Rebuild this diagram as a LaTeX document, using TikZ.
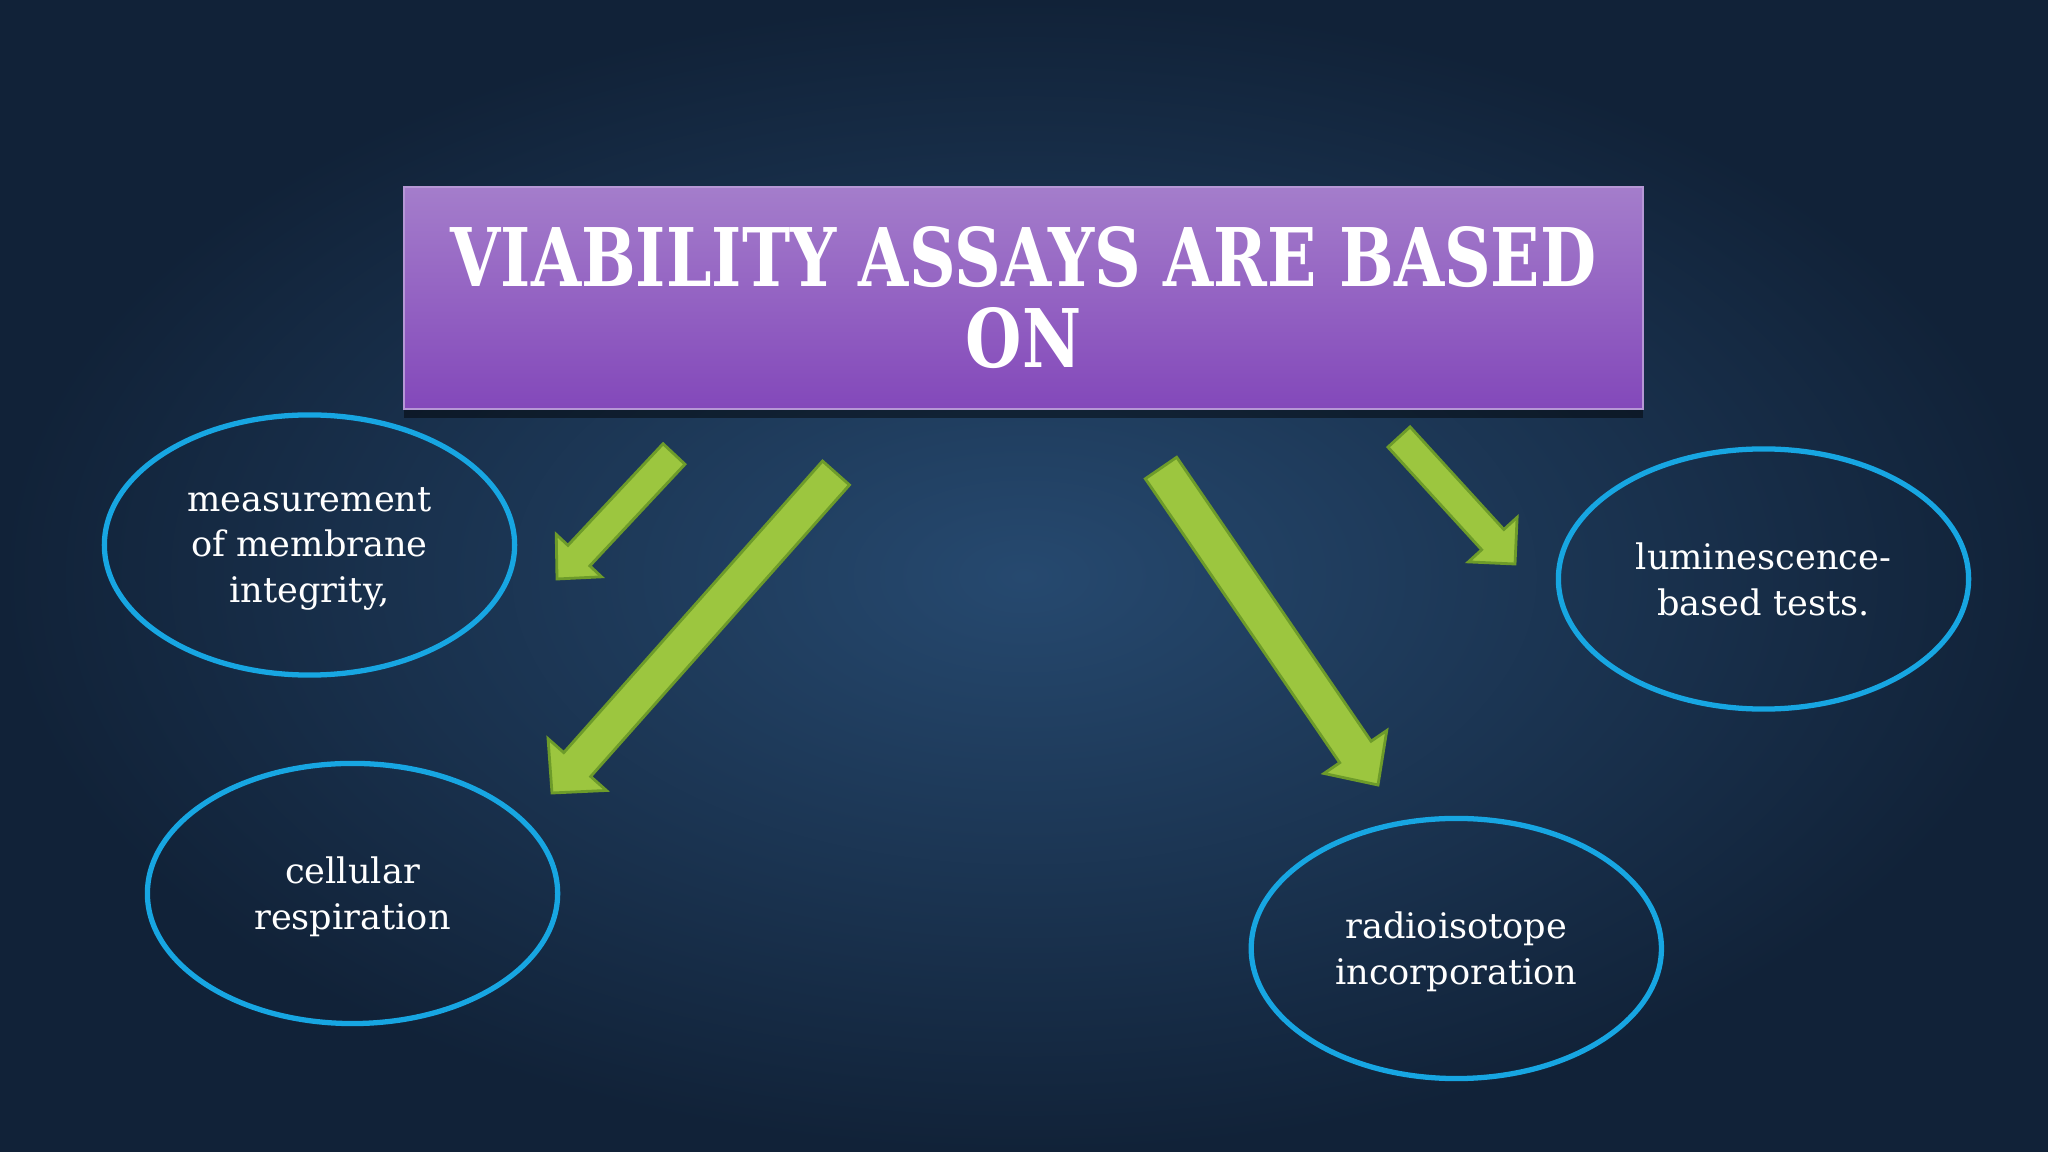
\documentclass[tikz,border=0pt]{standalone}
\usepackage{fontspec}
\setmainfont{DejaVu Serif}
\newfontfamily\titlefont[FakeStretch=0.8]{DejaVu Serif}
\usetikzlibrary{calc}
\usetikzlibrary{positioning}
\usetikzlibrary{shapes.geometric}
\usetikzlibrary{shadows}

\definecolor{bgin}{HTML}{26496F}
\definecolor{bgout}{HTML}{112238}
\definecolor{boxtop}{HTML}{A47DCB}
\definecolor{boxbottom}{HTML}{8348BA}
\definecolor{ovalblue}{HTML}{17A6E2}
\definecolor{arrowgreen}{HTML}{9CC63F}
\definecolor{arrowedge}{HTML}{6D9B2A}

% block arrow: tail, tip, half shaft, half head, head length
\newcommand\blockarrow[5]{%
  \coordinate (#2 base) at ($(#2)!#5!(#1)$);
  \filldraw[arrow body] ($(#1)!#3!90:(#2)$) -- ($(#2 base)!#3!90:(#2)$)
    -- ($(#2 base)!#4!90:(#2)$) -- (#2) -- ($(#2 base)!#4!-90:(#2)$)
    -- ($(#2 base)!#3!-90:(#2)$) -- ($(#1)!#3!-90:(#2)$) -- cycle;}

\begin{document}
\begin{tikzpicture}[
            x=0.01cm,y=-0.01cm,
            every node/.style={align=center,text=white},
            title box/.style={rectangle,top color=boxtop,bottom color=boxbottom,
                draw=boxtop!80!white,line width=0.6pt,minimum width=12.39cm,
                minimum height=2.22cm,
                drop shadow={shadow xshift=0pt,shadow yshift=-2.5pt,opacity=0.45,fill=black},
                font=\titlefont\bfseries\fontsize{23}{23}\selectfont},
            oval/.style={ellipse,draw=ovalblue,line width=1.5pt,minimum width=4.1cm,
                minimum height=2.6cm,text depth=0pt,font=\fontsize{10}{13}\selectfont},
            arrow body/.style={fill=arrowgreen,draw=arrowedge,line width=0.8pt}
        ]
        \useasboundingbox (0,0) rectangle (2048,1152);
        \shade[inner color=bgin,outer color=bgout] (0,0) rectangle (2048,1152);

        \node[title box] (title) at (1023.5,298) {VIABILITY ASSAYS ARE BASED\\ON};

        \node[oval] (membrane) at (309.5,545) {measurement\\of membrane\\integrity,};
        \node[oval,below=0.83cm of membrane,xshift=0.43cm] (respiration) {cellular\\respiration};
        \node[oval] (luminescence) at (1763.5,579) {luminescence-\\based tests.};
        \node[oval,below=1.04cm of luminescence,xshift=-3.07cm] (radioisotope) {radioisotope\\incorporation};

        \coordinate (tail a) at (674,454);
        \coordinate (tip a) at (557,579);
        \coordinate (tail b) at (836,473);
        \coordinate (tip b) at (552,793);
        \coordinate (tail c) at (1161,468);
        \coordinate (tip c) at (1378,785);
        \coordinate (tail d) at (1399,437);
        \coordinate (tip d) at (1515,564);

        \blockarrow{tail a}{tip a}{0.15cm}{0.31cm}{0.32cm}
        \blockarrow{tail b}{tip b}{0.18cm}{0.39cm}{0.38cm}
        \blockarrow{tail c}{tip c}{0.19cm}{0.38cm}{0.40cm}
        \blockarrow{tail d}{tip d}{0.15cm}{0.33cm}{0.33cm}
    \end{tikzpicture}
\end{document}
